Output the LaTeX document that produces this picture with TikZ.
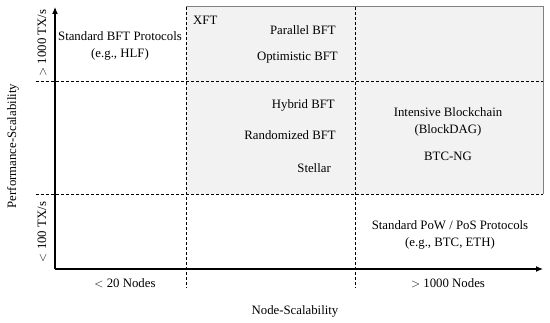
\documentclass[tikz,border=0pt]{standalone}
\usepackage{fontspec}
\setmainfont{Liberation Serif}
\usetikzlibrary{arrows.meta}
\definecolor{boxfill}{HTML}{F2F2F2}
\definecolor{boxline}{HTML}{808080}
\begin{document}
\begin{tikzpicture}[x=1pt, y=1pt, font=\fontsize{12.8}{17}\selectfont,
    axis/.style={line width=1.1pt, -{Latex[length=7pt,width=6pt]}},
    grid/.style={line width=0.8pt, dash pattern=on 3pt off 2pt},
    lbl/.style={inner sep=1pt, align=center}]
  \useasboundingbox (-55,-53) rectangle (495,269);
  % 灰色区域
  \coordinate (bl) at (131,75);
  \coordinate (tr) at (488,262);
  \fill[boxfill] (bl) rectangle (tr);
  \draw[boxline, line width=1pt] (bl |- tr) -- (tr) -- (tr |- bl);
  % 虚线分区
  \coordinate (h1a) at (-19,188);  \coordinate (h1b) at (488,188);
  \coordinate (h2a) at (-19,75);   \coordinate (h2b) at (488,75);
  \coordinate (v1a) at (131,262);  \coordinate (v1b) at (131,-19);
  \coordinate (v2a) at (300,262);  \coordinate (v2b) at (300,-19);
  \draw[grid] (h1a) -- (h1b);
  \draw[grid] (h2a) -- (h2b);
  \draw[grid] (v1a) -- (v1b);
  \draw[grid] (v2a) -- (v2b);
  % 坐标轴
  \coordinate (O) at (0,0);
  \coordinate (ytop) at (0,262);
  \coordinate (xend) at (488,0);
  \draw[axis] (O) -- (ytop);
  \draw[axis] (O) -- (xend);
  % 左上
  \node[lbl] (stdbft) at (65,223) {Standard BFT Protocols\\(e.g., HLF)};
  % 中间一列
  \node[lbl, anchor=west] (xft) at (137,249) {XFT};
  \node[lbl, anchor=east] (parallel) at (282,239) {Parallel BFT};
  \node[lbl, anchor=east] (optimistic) at (284,211) {Optimistic BFT};
  \node[lbl, anchor=east] (hybrid) at (281,164) {Hybrid BFT};
  \node[lbl, anchor=east] (randomized) at (282,134) {Randomized BFT};
  \node[lbl, anchor=east] (stellar) at (277,101) {Stellar};
  % 右侧
  \node[lbl] (dag) at (393,147) {Intensive Blockchain\\(BlockDAG)};
  \node[lbl] (btcng) at (393,113) {BTC-NG};
  \node[lbl] (pow) at (395,34) {Standard PoW / PoS Protocols\\(e.g., BTC, ETH)};
  % 轴标注
  \node[lbl] (few) at (70,-14) {$<$ 20 Nodes};
  \node[lbl] (many) at (393,-14) {$>$ 1000 Nodes};
  \node[lbl] (xlabel) at (240,-42) {Node-Scalability};
  \node[lbl, rotate=90] (ylabel) at (-42,123) {Performance-Scalability};
  \node[lbl, rotate=90] (fast) at (-13,226) {$>$ 1000 TX/s};
  \node[lbl, rotate=90] (slow) at (-13,37) {$<$ 100 TX/s};
\end{tikzpicture}
\end{document}
